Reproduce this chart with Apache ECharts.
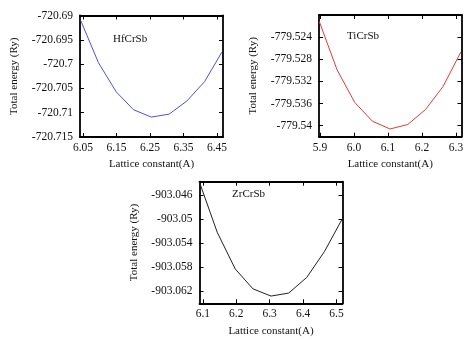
<!DOCTYPE html>
<html>
<head>
<meta charset="utf-8">
<script src="https://cdn.jsdelivr.net/npm/echarts@6/dist/echarts.min.js"></script>
<style>html,body{margin:0;padding:0;background:#fff}#c{width:474px;height:340px}</style>
</head>
<body>
<div id="c"></div>
<script>
// ---- data ----
var hfX = [6.043, 6.096, 6.149, 6.201, 6.254, 6.307, 6.360, 6.413, 6.465];
var hfE = [-720.6910, -720.6997, -720.7057, -720.7094, -720.7109, -720.7103, -720.7076, -720.7036, -720.6975];
var tiX = [5.898, 5.950, 6.002, 6.054, 6.106, 6.158, 6.210, 6.262, 6.314];
var tiE = [-779.5212, -779.5299, -779.5358, -779.5392, -779.5406, -779.5398, -779.5371, -779.5329, -779.5267];
var zrX = [6.090, 6.143, 6.197, 6.250, 6.304, 6.357, 6.411, 6.464, 6.518];
var zrE = [-903.0439, -903.0522, -903.0583, -903.0616, -903.0628, -903.0623, -903.0597, -903.0554, -903.0499];

var hfXTicks = [6.05, 6.15, 6.25, 6.35, 6.45];
var hfYTicks = [-720.715, -720.71, -720.705, -720.7, -720.695, -720.69];
var tiXTicks = [5.9, 6.0, 6.1, 6.2, 6.3];
var tiYTicks = [-779.54, -779.536, -779.532, -779.528, -779.524];
var zrXTicks = [6.1, 6.2, 6.3, 6.4, 6.5];
var zrYTicks = [-903.062, -903.058, -903.054, -903.05, -903.046];

var names = ['HfCrSb', 'TiCrSb', 'ZrCrSb'];
var xTitle = 'Lattice constant(A)';
var yTitle = 'Total energy (Ry)';

// ---- layout / style ----
var FONT = 'Liberation Serif';
var panels = [
  {x: hfX, y: hfE, xt: hfXTicks, yt: hfYTicks, xmin: 6.041, xmax: 6.468, ymin: -720.715, ymax: -720.69, color: '#5050e0', dec: 2,
   grid: {left: 80, top: 15.5, width: 143, height: 121.5}, lab: {left: 113, top: 34}},
  {x: tiX, y: tiE, xt: tiXTicks, yt: tiYTicks, xmin: 5.897, xmax: 6.316, ymin: -779.542, ymax: -779.52, color: '#e83838', dec: 1,
   grid: {left: 319, top: 15, width: 142.5, height: 121.7}, lab: {left: 347, top: 31}},
  {x: zrX, y: zrE, xt: zrXTicks, yt: zrYTicks, xmin: 6.09, xmax: 6.518, ymin: -903.064, ymax: -903.0438, color: '#222222', dec: 1,
   grid: {left: 199.5, top: 181.7, width: 143, height: 121.6}, lab: {left: 232, top: 189}}
];

function fmt(v) { return String(parseFloat(Number(v).toFixed(4))); }

var option = {
  backgroundColor: '#ffffff',
  animation: false,
  title: [], grid: [], xAxis: [], yAxis: [], series: []
};

panels.forEach(function (p, i) {
  option.title.push({text: names[i], left: p.lab.left, top: p.lab.top, padding: 0,
    textStyle: {fontFamily: FONT, fontSize: 11, fontWeight: 'normal', color: '#111'}});
  option.grid.push(Object.assign({containLabel: false}, p.grid));
  var lineStyle = {color: '#000', width: 1.8};
  var tick = {show: true, inside: true, length: 4, lineStyle: {color: '#000', width: 1}};
  option.xAxis.push({
    type: 'value', gridIndex: i, min: p.xmin, max: p.xmax, position: 'bottom',
    name: xTitle, nameLocation: 'middle', nameGap: 22,
    nameTextStyle: {fontFamily: FONT, fontSize: 11, color: '#111'},
    axisLine: {show: true, onZero: false, lineStyle: lineStyle},
    axisTick: Object.assign({customValues: p.xt}, tick),
    axisLabel: {customValues: p.xt, fontFamily: FONT, fontSize: 11.5, color: '#111', margin: 5,
      formatter: function (v) { return Number(v).toFixed(p.dec); }},
    splitLine: {show: false}
  });
  option.xAxis.push({
    type: 'value', gridIndex: i, min: p.xmin, max: p.xmax, position: 'top',
    axisLine: {show: true, onZero: false, lineStyle: lineStyle},
    axisTick: Object.assign({customValues: p.xt}, tick),
    axisLabel: {show: false}, splitLine: {show: false}
  });
  option.yAxis.push({
    type: 'value', gridIndex: i, min: p.ymin, max: p.ymax, position: 'left',
    name: yTitle, nameLocation: 'middle', nameGap: 60,
    nameTextStyle: {fontFamily: FONT, fontSize: 11, color: '#111'},
    axisLine: {show: true, onZero: false, lineStyle: lineStyle},
    axisTick: Object.assign({customValues: p.yt}, tick),
    axisLabel: {customValues: p.yt, fontFamily: FONT, fontSize: 11.5, color: '#111', margin: 7, formatter: fmt},
    splitLine: {show: false}
  });
  option.yAxis.push({
    type: 'value', gridIndex: i, min: p.ymin, max: p.ymax, position: 'right',
    axisLine: {show: true, onZero: false, lineStyle: lineStyle},
    axisTick: Object.assign({customValues: p.yt}, tick),
    axisLabel: {show: false}, splitLine: {show: false}
  });
  option.series.push({
    type: 'line', xAxisIndex: 2 * i, yAxisIndex: 2 * i,
    data: p.x.map(function (xv, k) { return [xv, p.y[k]]; }),
    showSymbol: false, smooth: false, clip: true,
    lineStyle: {color: p.color, width: 1}
  });
});

var chart = echarts.init(document.getElementById('c'), null, {renderer: 'canvas'});
chart.setOption(option);
</script>
</body>
</html>
